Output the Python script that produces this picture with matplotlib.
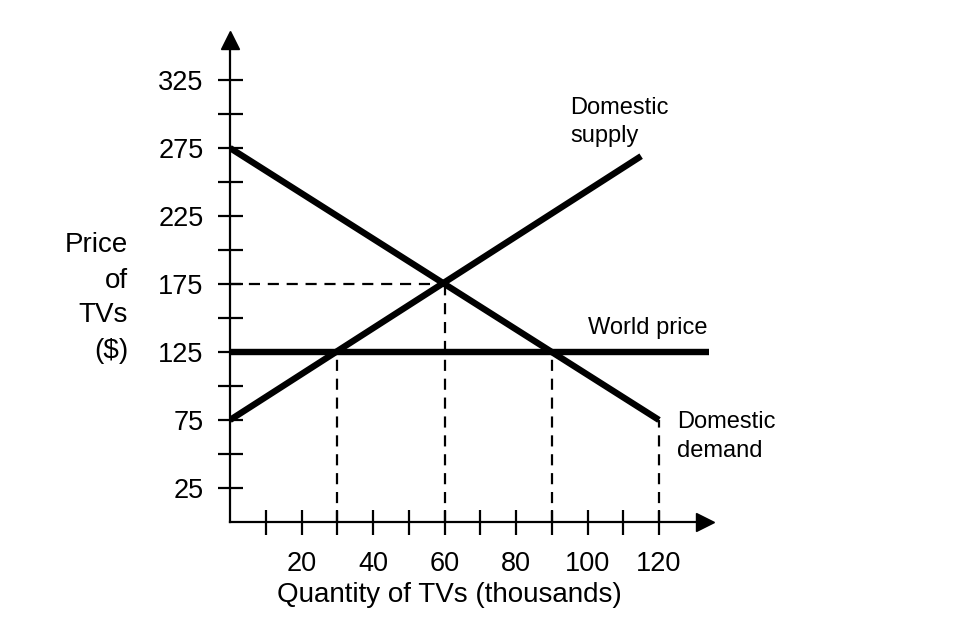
import matplotlib.pyplot as plt

plt.rcParams['font.family'] = ['Liberation Sans', 'DejaVu Sans']

# data
supply_q = [0, 115]
supply_p = [75, 269]
demand_q = [0, 120]
demand_p = [275, 75]
world_q = [0, 134]
world_p = [125, 125]

# dashed guides: (quantity, price) of points dropped to the axes
guide_points = [(30, 125), (60, 175), (90, 125), (120, 75)]

y_major = [25, 75, 125, 175, 225, 275, 325]
y_minor = [50, 100, 150, 200, 250, 300]
x_major = [20, 40, 60, 80, 100, 120]
x_minor = [10, 30, 50, 70, 90, 110]

fig = plt.figure(figsize=(9.77, 6.27), dpi=100)
ax = fig.add_axes([230 / 977, 105 / 627, 475 / 977, 482 / 627])
ax.set_xlim(0, 475 / 3.575)
ax.set_ylim(0, 482 / 1.36)

for s in ['top', 'right']:
    ax.spines[s].set_visible(False)
for s in ['left', 'bottom']:
    ax.spines[s].set_linewidth(1.6)

# arrow heads on the axes
ax.plot(1, 0, '>k', ms=13, transform=ax.get_yaxis_transform(), clip_on=False)
ax.plot(0, 1, '^k', ms=13, transform=ax.get_xaxis_transform(), clip_on=False)

ax.set_yticks(y_major)
ax.set_yticks(y_minor, minor=True)
ax.set_xticks(x_major)
ax.set_xticks(x_minor, minor=True)
ax.tick_params(which='both', direction='inout', length=18, width=1.6, labelsize=19.5)
ax.tick_params(axis='y', which='both', pad=10)
ax.tick_params(axis='x', which='both', pad=12)

# dashed guide lines
dash = dict(color='black', lw=1.6, dashes=(5, 3.5))
ax.plot([0, 60], [175, 175], **dash)
for q, p in guide_points:
    ax.plot([q, q], [0, p], **dash)

# curves
ax.plot(supply_q, supply_p, color='black', lw=4.6, solid_capstyle='butt')
ax.plot(demand_q, demand_p, color='black', lw=4.6, solid_capstyle='butt')
ax.plot(world_q, world_p, color='black', lw=4.6, solid_capstyle='butt', clip_on=False)

ax.text(95.1, 294, 'Domestic\nsupply', fontsize=17, ha='left', va='center', linespacing=1.35)
ax.text(100.1, 142.6, 'World price', fontsize=17, ha='left', va='center')
ax.text(125, 63, 'Domestic\ndemand', fontsize=17, ha='left', va='center', linespacing=1.4)

fig.text(128 / 977, 1 - 298 / 627, 'Price\nof\nTVs\n($)', fontsize=20, ha='right', va='center',
         linespacing=1.45)
fig.text(449 / 977, 1 - 595 / 627, 'Quantity of TVs (thousands)', fontsize=20, ha='center', va='center')

plt.savefig('out.png', dpi=100)
